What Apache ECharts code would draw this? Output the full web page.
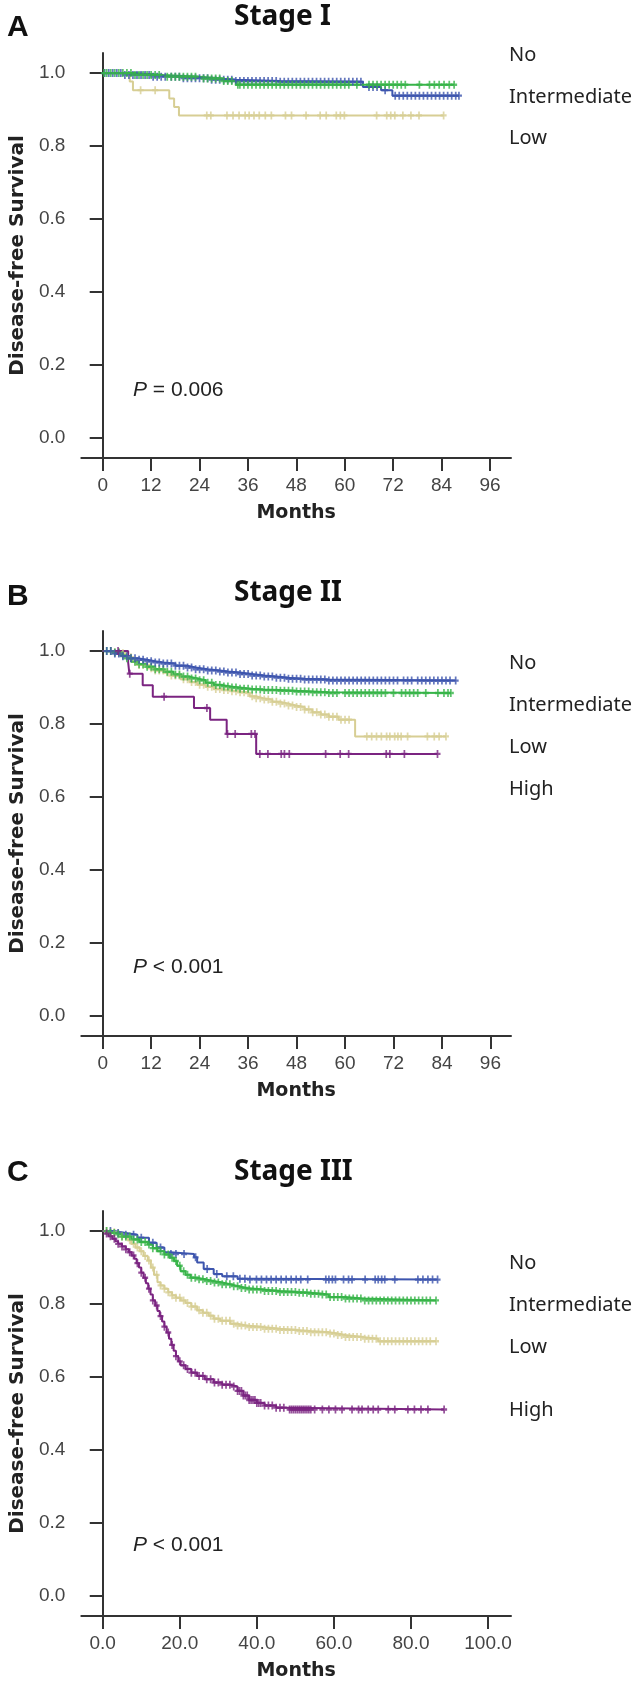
<!DOCTYPE html>
<html><head><meta charset="utf-8">
<script src="https://cdn.jsdelivr.net/npm/echarts@6/dist/echarts.min.js"></script>
<style>html,body{margin:0;padding:0;background:#fff}#c{width:643px;height:1687px}</style>
</head><body><div id="c"></div>
<script>
// ---------- Data ----------
const panelTitles = ['Stage I', 'Stage II', 'Stage III'];
const panelLetters = ['A', 'B', 'C'];
const groupNames = ['No', 'Intermediate', 'Low', 'High'];
const pValues = ['= 0.006', '< 0.001', '< 0.001'];
const yTicks = [0, 0.2, 0.4, 0.6, 0.8, 1.0];
const xTicksAB = [0, 12, 24, 36, 48, 60, 72, 84, 96];
const xTicksC = [0, 20, 40, 60, 80, 100];

// Stage I  (month, survival after step)
const stepsA_no  = [[0,1],[5,0.995],[12,0.99],[20,0.986],[27,0.982],[33,0.978],[44,0.976],[64.5,0.962],[69,0.953],[71.8,0.938],[88.3,0.938]];
const stepsA_int = [[0,1],[8,0.995],[15,0.99],[24,0.985],[30,0.978],[33,0.968],[87.2,0.968]];
const stepsA_low = [[0,1],[6.7,0.977],[7.5,0.953],[16.5,0.93],[17.7,0.907],[18.9,0.884],[84.5,0.884]];
const censA_no  = [0.5,1.5,2.5,3.5,4.5,5.5,6.5,7.5,8.5,9.5,10.5,11.5,12.5,13.5,14.5,15.5,17,18,19,20,21,22,23,24,25,26,27,28,29,30,31,32,33,34,35,36,37,38,39,40,41,42,43,44,45,46,47,48,49,50,51,52,53,54,55,56,57,58,59,60,61,62,63,64,66,67,68,70,72.5,73.5,74.5,75.5,76.5,77.5,78.5,79.5,80.5,81.5,82.5,83.5,84.5,85.5,86.5,87.5,88.3];
const censA_int = [0.3,1,2,3,4,5,6,7,8,9,10,11,12,13,14,16,17,18,19,20,21,22,23,25,26,27,28,29,30,31,32,33.5,34,35,36,37,38,39,40,41,42,43,44,45,46,47,48,49,50,51,52,53,54,55,56,57,58,59,60,61,63,66,67,68,69,70,71,72,73,74,75,78.5,81,82.2,83.4,84.6,85.9,87.1];
const censA_low = [9.4,13,25.8,26.8,30.8,32.3,33.8,35.3,36.3,37.5,38.8,40.3,41.8,45.3,46.8,50.4,53.9,55.4,57.9,58.9,59.9,67.9,70.4,71.4,72.4,74.4,76.4,78.4,84.5];

// Stage II
const stepsB_no   = [[0,1],[3,0.993],[5,0.986],[7,0.98],[9,0.976],[11,0.972],[13,0.969],[15,0.966],[18,0.96],[21,0.955],[23,0.95],[26,0.947],[29,0.944],[31,0.941],[34,0.937],[37,0.933],[40,0.93],[43,0.927],[46,0.924],[50,0.922],[56,0.919],[87.4,0.919]];
const stepsB_int  = [[0,1],[2.7,0.996],[4.5,0.988],[6,0.98],[7.1,0.971],[9,0.964],[11,0.957],[13,0.95],[15.2,0.943],[17.5,0.936],[19.5,0.93],[21.5,0.925],[23.4,0.92],[25.5,0.913],[27.5,0.907],[29.5,0.903],[31.5,0.9],[34,0.897],[36.4,0.895],[39.7,0.893],[44,0.891],[47.8,0.889],[52,0.887],[56,0.885],[86.2,0.885]];
const stepsB_low  = [[0,1],[3,0.997],[4.6,0.994],[6,0.983],[7.1,0.971],[9,0.962],[11.2,0.953],[13,0.947],[15.2,0.941],[17,0.933],[19.3,0.923],[21.5,0.915],[23.4,0.908],[25.5,0.902],[27.5,0.896],[29.5,0.893],[31.5,0.89],[33.5,0.887],[35.6,0.885],[36.4,0.876],[38,0.871],[39.7,0.867],[42,0.861],[43.8,0.856],[46,0.851],[47.8,0.847],[50,0.84],[51.9,0.832],[54,0.826],[56,0.82],[58.4,0.812],[62.5,0.766],[85,0.766]];
const stepsB_high = [[0,1],[6.3,0.969],[6.6,0.938],[9.9,0.906],[12.4,0.875],[22.6,0.844],[26.6,0.812],[30.7,0.773],[38.0,0.718],[82.9,0.718]];
const censB_no   = [1,2,3,4,5,6,7,8,9,10,11,12,13,14,15,16,17,18,19,20,21,22,23,24,25,26,27,28,29,30,31,32,33,34,35,36,37,38,39,40,41,42,43,44,45,46,47,48,49,50,51,52,53,54,55,56,57,58,59,60,61,62,63,64,65,66,67,68,69,70,71,72,73,74.5,75.5,76.5,78,79,80,81,82,83,84,85,86,87.4];
const censB_int  = [1,2,3,4,5,6,7,8,9,10,11,12,13,14,15,16,17,18,19,20,21,22,23,24,25,26,27,28,29,30,31,32,33,34,35,36,37,38,39,40,41,42,43,44,45,46,47,48,49,50,51,52,53,54,55,56,57,58,60,61,62,63,64,65,66,67,68,69,70,72,74,75,76,77,78,80,83,84.5,85.5,86.2];
const censB_low  = [2,3,4,5,6,7,8,9,10,11,12,13,14,15,16,17,18,19,20,21,22,23,24,25,26,27,28,29,30,31,32,33,34,35,36,37,38,39,40,41,42,43,44,45,46,47,48,49,50,51,52,53,54,55,56,57,58,59,60,61,65.4,66.6,67.8,69,70.3,71.1,72.3,73.1,73.9,75.5,80.4,82.1,83.3,85];
const censB_high = [3.8,6.7,15.2,25.8,30.9,32.8,36.8,37.7,38.9,40.9,44.2,45.0,46.2,55.2,58.8,60.9,70.2,71.1,74.7,82.9];

// Stage III
const stepsC_no   = [[0,1],[3,0.995],[6,0.99],[9,0.982],[12,0.968],[14,0.955],[16,0.942],[17.5,0.937],[23.7,0.928],[24.5,0.914],[26.2,0.896],[28.8,0.882],[31,0.876],[35,0.869],[38,0.867],[86.9,0.867]];
const stepsC_int  = [[0,1],[1.5,0.995],[3.2,0.991],[5,0.985],[7.4,0.977],[9.5,0.97],[11.7,0.963],[13,0.953],[14.2,0.945],[16,0.936],[17.3,0.927],[18.5,0.918],[19.3,0.905],[20.2,0.89],[21.5,0.88],[22.8,0.872],[24.5,0.868],[26.5,0.863],[28.8,0.859],[31,0.854],[33.1,0.849],[35.2,0.844],[37.3,0.84],[41.6,0.836],[46,0.833],[50.2,0.831],[54,0.828],[57,0.826],[58.7,0.819],[63,0.815],[67.3,0.81],[86.5,0.81]];
const stepsC_low  = [[0,1],[2,0.997],[3.2,0.995],[5,0.985],[6.5,0.975],[7.4,0.965],[8.5,0.955],[9.6,0.945],[10.6,0.932],[11.7,0.919],[12.5,0.9],[13.3,0.88],[14.2,0.86],[15,0.851],[16,0.842],[17,0.832],[18,0.824],[19,0.817],[20.2,0.81],[21.5,0.803],[23,0.793],[24.5,0.783],[26,0.776],[27.5,0.768],[28.8,0.76],[30.5,0.754],[33.1,0.746],[35,0.741],[37.3,0.737],[41.6,0.732],[46,0.729],[50.2,0.726],[54,0.723],[58.7,0.719],[61,0.715],[63,0.71],[67.3,0.705],[71.5,0.698],[86.5,0.698]];
const stepsC_high = [[0,1],[0.8,0.993],[1.5,0.986],[2.5,0.979],[3.3,0.972],[4,0.965],[5,0.958],[6,0.95],[6.8,0.942],[7.5,0.933],[8.2,0.924],[8.8,0.912],[9.4,0.9],[10,0.886],[10.6,0.872],[11.2,0.857],[11.8,0.842],[12.4,0.826],[13,0.81],[13.6,0.796],[14.2,0.781],[14.8,0.767],[15.4,0.752],[16,0.738],[16.6,0.722],[17.2,0.705],[17.8,0.688],[18.4,0.672],[19,0.657],[19.6,0.643],[20.2,0.632],[21.5,0.622],[23,0.612],[24.5,0.603],[26.5,0.594],[28.8,0.585],[31,0.579],[33.1,0.574],[35,0.562],[36.5,0.549],[38,0.537],[40,0.529],[42,0.522],[45,0.516],[47.6,0.511],[88.6,0.511]];
const censC_no   = [2,4,6,8,10,13,15,17.7,19,21.1,24.1,27.1,29.6,32.2,33.9,35.6,36.9,38.2,39.9,41.2,42.5,43.7,45,46.3,47.6,48.9,50.2,51.4,53.2,57.9,58.7,59.6,60.4,62.5,63.8,64.7,68.1,70.7,71.5,72.4,73.2,75.8,81.8,83.1,84.4,85.6,86.9];
const censC_int  = [1,2,3,4,5,6,7,8,9,10,11,12,13,14,15,16,17,18,19,20,21,22,23,24,25,26,27,28,29,30,31,32,33,34,35,36,37,38,39,40,41,42,43,44,45,46,47,48,49,50,51,52,53,54,55,56,57,58,59,60,61,62,63,64,65,66,67,68,69,70,71,72,73,74,75,76,77,78,79,80,81,82,83,84,85,86.5];
const censC_low  = [1,2,3,4,5,6,7,8,9,10,11,12,13,14,15,16,17,18,19,20,21,22,23,24,25,26,27,28,29,30,31,32,33,34,35,36,37,38,39,40,41,42,43,44,45,46,47,48,49,50,51,52,53,54,55,56,57,58,59,60,61,62,63,64,65,66,67,68,69,70,71,72,73,74,75,76,77,78,79,80,81,82,83,84,85,86.5];
const censC_high = [1,2,3,4,5,6,7,8,9,10,11,12,13,14,15,16,17,18,19,20,21,22,23,24,25,26,27,28,29,30,31,32,33,34,35,35.5,36,36.5,37,37.5,38,38.5,39,39.5,40,40.5,41,42,43,44,45,46,47,48.5,49,49.5,50,50.5,51,51.5,52,52.5,53,53.5,54,55,57,58.7,60.4,62.1,64.7,66.4,67.3,68.9,70.2,71.5,74.1,75.8,79.2,80.9,82.6,84.4,88.6];

// ---------- Styling ----------
const colors = {No:'#3d55ae', Intermediate:'#37b449', Low:'#d7ce94', High:'#7b2481'};
const FONT = 'Liberation Sans, Arial, sans-serif';
const WFONT = 'DejaVu Sans, sans-serif';
const KFONT = 'Noto Sans, sans-serif';

function survAt(steps, t){ let v = steps[0][1]; for (const s of steps){ if (s[0] <= t) v = s[1]; else break; } return v; }

const panels = [
  {steps:{No:stepsA_no, Intermediate:stepsA_int, Low:stepsA_low}, cens:{No:censA_no, Intermediate:censA_int, Low:censA_low},
   order:['Low','No','Intermediate'], xTicks:xTicksAB, xmin:-5.3, xmax:101.2, xdec:0, top:53},
  {steps:{No:stepsB_no, Intermediate:stepsB_int, Low:stepsB_low, High:stepsB_high}, cens:{No:censB_no, Intermediate:censB_int, Low:censB_low, High:censB_high},
   order:['Low','Intermediate','No','High'], xTicks:xTicksAB, xmin:-5.3, xmax:101.1, xdec:0, top:631},
  {steps:{No:stepsC_no, Intermediate:stepsC_int, Low:stepsC_low, High:stepsC_high}, cens:{No:censC_no, Intermediate:censC_int, Low:censC_low, High:censC_high},
   order:['Low','No','Intermediate','High'], xTicks:xTicksC, xmin:-5.56, xmax:105.96, xdec:1, top:1211}
];
const legendY = [[55,97,138],[663,705,747,789],[1263,1305,1347,1410]];
const titleY = [17, 593, 1172];
const letterY = [28, 597, 1173];
const pY = [390, 967, 1545];

const grid = [], xAxis = [], yAxis = [], series = [], graphic = [];
const axisCol = '#333';
panels.forEach((p, i) => {
  grid.push({left:76, top:p.top, width:435, height:405});
  xAxis.push({type:'value', gridIndex:i, min:p.xmin, max:p.xmax,
    axisLine:{show:true, onZero:false, lineStyle:{color:axisCol, width:2}},
    axisTick:{show:true, length:13, customValues:p.xTicks, lineStyle:{color:axisCol, width:2}},
    axisLabel:{customValues:p.xTicks, formatter:v=>Number(v).toFixed(p.xdec), margin:18, fontSize:19, color:'#444', fontFamily:FONT},
    splitLine:{show:false},
    name:'Months', nameLocation:'middle', nameGap:46,
    nameTextStyle:{fontSize:19, fontWeight:'bold', color:'#222', fontFamily:WFONT}});
  yAxis.push({type:'value', gridIndex:i, min:-0.055, max:1.055,
    axisLine:{show:true, lineStyle:{color:axisCol, width:2}},
    axisTick:{show:true, length:13, customValues:yTicks, lineStyle:{color:axisCol, width:2}},
    axisLabel:{customValues:yTicks, formatter:v=>Number(v).toFixed(1), margin:16, fontSize:19, color:'#444', fontFamily:FONT},
    splitLine:{show:false},
    name:'Disease-free Survival', nameLocation:'middle', nameGap:46,
    nameTextStyle:{fontSize:20, fontWeight:'bold', color:'#222', fontFamily:WFONT}});
  p.order.forEach(g => {
    const steps = p.steps[g];
    series.push({type:'line', xAxisIndex:i, yAxisIndex:i, step:'end', data:steps, showSymbol:false, symbol:'none',
      lineStyle:{color:colors[g], width:2}, silent:true, z:2});
    series.push({type:'scatter', xAxisIndex:i, yAxisIndex:i, data:p.cens[g].map(t=>[t, survAt(steps, t)]),
      symbol:'path://M3,0V8M0,4H6', symbolSize:[6,8],
      itemStyle:{color:'rgba(0,0,0,0)', borderColor:colors[g], borderWidth:2}, silent:true, z:3});
  });
  graphic.push({type:'text', x:7, y:letterY[i], style:{text:panelLetters[i], font:'bold 30px '+FONT, fill:'#111', verticalAlign:'middle'}});
  graphic.push({type:'text', x:234, y:titleY[i], style:{text:panelTitles[i], font:'bold 28px '+KFONT, fill:'#111', verticalAlign:'middle'}});
  const names = p.order.slice().sort((a,b)=>groupNames.indexOf(a)-groupNames.indexOf(b));
  names.forEach((g, k) => {
    graphic.push({type:'text', x:509, y:legendY[i][k], style:{text:g, font:'20px '+KFONT, fill:'#222', verticalAlign:'middle'}});
  });
  graphic.push({type:'text', x:133, y:pY[i], style:{text:'{i|P} '+pValues[i], verticalAlign:'middle',
    rich:{i:{fontStyle:'italic', fontSize:21, fontFamily:FONT, fill:'#222'}}, font:'21px '+FONT, fill:'#222'}});
});

const chart = echarts.init(document.getElementById('c'), null, {renderer:'canvas'});
chart.setOption({animation:false, backgroundColor:'#fff', grid, xAxis, yAxis, series, graphic});
</script></body></html>
